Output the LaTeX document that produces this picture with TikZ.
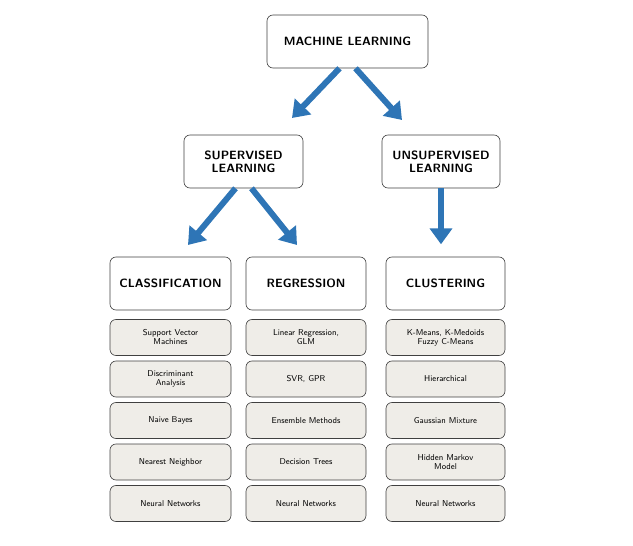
\documentclass[tikz,border=0pt]{standalone}
\usepackage{fontspec}
\setmainfont{PT Sans}
\usetikzlibrary{arrows.meta, positioning}
\definecolor{arrowblue}{HTML}{2E75B6}
\definecolor{leafgray}{HTML}{EFEDE8}
\begin{document}
\begin{tikzpicture}[%
        x=1pt, y=-1pt,
        font=\sffamily,
    ]
    \tikzset{
        base/.style={draw=black!75, rounded corners=6pt, align=center, line width=0.6pt},
        head/.style={base, fill=white, minimum height=53pt, font=\sffamily\bfseries\fontsize{12}{13}\selectfont},
        leaf/.style={base, fill=leafgray, minimum width=120pt, minimum height=36pt, font=\sffamily\fontsize{8.5}{9}\selectfont},
        flow/.style={-{Triangle[length=16pt, width=22pt]}, draw=arrowblue, line width=6pt}
    }
    \useasboundingbox (0,0) rectangle (633,546);
    %%% Blocks
    \node [head, minimum width=161pt] (ml) at (347.5,41.5) {MACHINE LEARNING};
    \node [head, minimum width=119pt] (sup) at (243.5,161.5) {SUPERVISED\\LEARNING};
    \node [head, minimum width=118pt] (unsup) at (441,161.5) {UNSUPERVISED\\LEARNING};
    \node [head, minimum width=121pt] (class) at (170.5,283.5) {CLASSIFICATION};
    \node [head, minimum width=120pt] (regr) at (306,283.5) {REGRESSION};
    \node [head, minimum width=119pt] (clust) at (445.5,283.5) {CLUSTERING};
    %%% Leaves
    \foreach \txt [count=\i] in {{Support Vector\\Machines}, {Discriminant\\Analysis}, Naive Bayes, Nearest Neighbor, Neural Networks}
        \node [leaf, minimum width=121pt] (c\i) at (170.5, 296+41.5*\i) {\txt};
    \foreach \txt [count=\i] in {{Linear Regression,\\GLM}, {SVR, GPR}, Ensemble Methods, Decision Trees, Neural Networks}
        \node [leaf] (r\i) at (306, 296+41.5*\i) {\txt};
    \foreach \txt [count=\i] in {{K-Means, K-Medoids\\Fuzzy C-Means}, Hierarchical, Gaussian Mixture, {Hidden Markov\\Model}, Neural Networks}
        \node [leaf, minimum width=119pt] (k\i) at (445.5, 296+41.5*\i) {\txt};
    %%% Connectors
    \coordinate (ml1) at (292,118);
    \coordinate (ml2) at (402,120);
    \coordinate (sup1) at (188,245);
    \coordinate (sup2) at (297,245);
    \draw [flow] (ml.south) ++(-8,0) -- (ml1);
    \draw [flow] (ml.south) ++(8,0) -- (ml2);
    \draw [flow] (sup.south) ++(-8,0) -- (sup1);
    \draw [flow] (sup.south) ++(8,0) -- (sup2);
    \draw [flow] (unsup.south) -- ++(0,56);
\end{tikzpicture}
\end{document}
